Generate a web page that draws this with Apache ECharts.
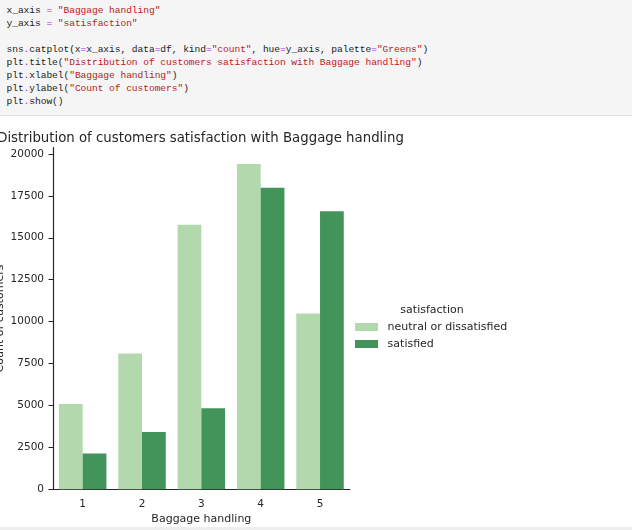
<html>
<head>
<meta charset="utf-8">
<title>Baggage handling</title>
<script src="https://cdn.jsdelivr.net/npm/echarts@6/dist/echarts.min.js"></script>
<style>
  body { margin: 0; background: #fff; width: 632px; height: 530px; overflow: hidden; position: relative; }
  #code { position: absolute; left: 0; top: 0; width: 632px; height: 116px; background: #f5f5f5;
          border-bottom: 1px solid #e0e0e0; box-sizing: border-box; }
  #code pre { margin: 0; padding: 3.5px 0 0 6.5px; font-family: "Liberation Mono", "DejaVu Sans Mono", monospace;
          font-size: 9.6px; letter-spacing: -0.06px; line-height: 13px; color: #222; }
  #code .o { color: #aa22ff; }
  #code .s { color: #ba2121; }
  #container { position: absolute; left: 0; top: 0; width: 632px; height: 530px; }
  #foot { position: absolute; left: 0; top: 527px; width: 632px; height: 3px; background: #eeeeee; }
</style>
</head>
<body>
	<div id="container"></div>
	<div id="code"><pre>x_axis <span class="o">=</span> <span class="s">"Baggage handling"</span>
y_axis <span class="o">=</span> <span class="s">"satisfaction"</span>

sns<span class="o">.</span>catplot(x<span class="o">=</span>x_axis, data<span class="o">=</span>df, kind<span class="o">=</span><span class="s">"count"</span>, hue<span class="o">=</span>y_axis, palette<span class="o">=</span><span class="s">"Greens"</span>)
plt<span class="o">.</span>title(<span class="s">"Distribution of customers satisfaction with Baggage handling"</span>)
plt<span class="o">.</span>xlabel(<span class="s">"Baggage handling"</span>)
plt<span class="o">.</span>ylabel(<span class="s">"Count of customers"</span>)
plt<span class="o">.</span>show()</pre></div>
	<div id="foot"></div>
	<script type="text/javascript">
		// data
		var categories = ['1', '2', '3', '4', '5'];
		var neutral = [5080, 8100, 15770, 19400, 10490];
		var satisfied = [2140, 3410, 4840, 17980, 16580];
		var yTicks = [0, 2500, 5000, 7500, 10000, 12500, 15000, 17500, 20000];
		var yMax = 20370;

		var ink = '#262626';
		var font = 'DejaVu Sans';
		var dom = document.getElementById("container");
		var myChart = echarts.init(dom, null, { renderer: 'canvas' });
		var option = {
		  animation: false,
		  textStyle: { fontFamily: font, color: ink },
		  title: [
		    {
		      text: 'Distribution of customers satisfaction with Baggage handling',
		      left: 195.5, top: 127, textAlign: 'center',
		      textStyle: { fontFamily: font, fontSize: 13.3, fontWeight: 'normal', color: ink }
		    },
		    {
		      text: 'satisfaction',
		      left: 427, top: 300, textAlign: 'center',
		      textStyle: { fontFamily: font, fontSize: 11, fontWeight: 'normal', color: ink }
		    }
		  ],
		  legend: {
		    orient: 'vertical',
		    left: 355, top: 321.5,
		    itemWidth: 23, itemHeight: 8, itemGap: 6,
		    icon: 'rect',
		    padding: 0,
		    textStyle: { fontFamily: font, fontSize: 11, color: ink, lineHeight: 11, padding: [0, 0, 0, 4.6] },
		    data: ['neutral or dissatisfied', 'satisfied']
		  },
		  grid: { left: 53, right: 282.3, top: 147.7, bottom: 40.7, containLabel: false, outerBoundsMode: 'none' },
		  xAxis: {
		    type: 'category',
		    data: categories,
		    name: 'Baggage handling',
		    nameLocation: 'middle',
		    nameGap: 24.5,
		    nameMoveOverlap: false,
		    nameTextStyle: { fontFamily: font, fontSize: 11, color: ink },
		    axisLine: { lineStyle: { color: ink, width: 1.2 } },
		    axisTick: { alignWithLabel: true, length: 4, lineStyle: { color: ink, width: 1 } },
		    axisLabel: { margin: 9.5, fontFamily: font, fontSize: 10.5, color: ink }
		  },
		  yAxis: {
		    type: 'value',
		    min: 0, max: yMax,
		    name: 'Count of customers',
		    nameLocation: 'middle',
		    nameRotate: 90,
		    nameGap: 47,
		    nameMoveOverlap: false,
		    nameTextStyle: { fontFamily: font, fontSize: 11, color: ink },
		    splitLine: { show: false },
		    axisLine: { show: true, lineStyle: { color: ink, width: 1.2 } },
		    axisTick: { show: true, length: 4.5, customValues: yTicks, lineStyle: { color: ink, width: 1 } },
		    axisLabel: {
		      margin: 9, customValues: yTicks, fontFamily: font, fontSize: 10.5, color: ink,
		      formatter: function (v) { return String(v); }
		    }
		  },
		  series: [
		    {
		      name: 'neutral or dissatisfied',
		      type: 'bar',
		      data: neutral,
		      barGap: 0,
		      barCategoryGap: '20%',
		      itemStyle: { color: '#b3d8ae' }
		    },
		    {
		      name: 'satisfied',
		      type: 'bar',
		      data: satisfied,
		      barGap: 0,
		      barCategoryGap: '20%',
		      itemStyle: { color: '#43945a' }
		    }
		  ]
		};
		if (option && typeof option === 'object') {
			myChart.setOption(option);
		}
	</script>
</body>
</html>
